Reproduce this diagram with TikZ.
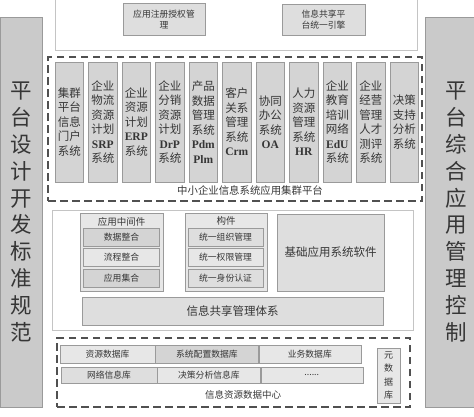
\documentclass[tikz,border=0pt]{standalone}
\usepackage{fontspec}
\newfontfamily\cjk{Noto Sans CJK SC}
\newfontfamily\lat{Liberation Serif}
\usepackage{xcolor}
\definecolor{gry00}{HTML}{CACACA}
\definecolor{gry01}{HTML}{D4D4D4}
\definecolor{gry02}{HTML}{DEDEDE}
\definecolor{gry03}{HTML}{E7E7E7}
\definecolor{edg00}{HTML}{9A9A9A}
\definecolor{edg01}{HTML}{C4C4C4}
\definecolor{txt00}{HTML}{363636}
\definecolor{dsh00}{HTML}{505050}
\usepackage{tikz}
\usetikzlibrary{positioning}
\tikzstyle{side_bar} = [rectangle, inner sep=0pt, minimum height=390pt, draw=edg00, fill=gry00, text=txt00, font=\cjk\fontsize{21.5}{26.8}\selectfont]
\tikzstyle{white_frame} = [rectangle, inner sep=0pt, draw=edg01, fill=white]
\tikzstyle{dash_frame} = [rectangle, inner sep=0pt, draw=dsh00, line width=1.7pt, dash pattern=on 7.5pt off 4.5pt]
\tikzstyle{app} = [rectangle, inner sep=0pt, minimum width=28.5pt, minimum height=120pt, draw=edg00, fill=gry01, text=txt00, font=\cjk\fontsize{11.5}{14.5}\selectfont]
\tikzstyle{cell} = [rectangle, inner sep=0pt, minimum height=18pt, draw=edg00, text=txt00, font=\cjk\fontsize{8.8}{11}\selectfont]
\tikzstyle{group} = [rectangle, inner sep=0pt, minimum height=78pt, draw=edg00, fill=gry03]
\tikzstyle{caption} = [inner sep=0pt, text=txt00, font=\cjk\fontsize{9.5}{11}\selectfont]
\tikzstyle{big_box} = [rectangle, inner sep=0pt, draw=edg00, fill=gry02, text=txt00, font=\cjk\fontsize{11.5}{13}\selectfont]

\begin{document}
\begin{tikzpicture}[x=1pt,y=-1pt,align=center]
        \useasboundingbox (0,0) rectangle (474,416);
        % side bars
        \node (std)[side_bar, minimum width=42pt] at (21,212) {平\\台\\设\\计\\开\\发\\标\\准\\规\\范};
        \node (ctl)[side_bar, minimum width=63pt] at (456.5,212) {平\\台\\综\\合\\应\\用\\管\\理\\控\\制};
        % top part
        \node (top)[white_frame, minimum width=362pt, minimum height=64pt] at (236,18) {};
        \node (reg)[cell, fill=gry02, minimum width=82pt, minimum height=32pt] at (164,19) {应用注册授权管\\理};
        \node (eng)[cell, fill=gry02, minimum width=83pt, minimum height=31pt] at (323.5,19.5) {信息共享平\\台统一引擎};
        % application cluster platform
        \node (plat)[dash_frame, minimum width=374pt, minimum height=144pt] at (235,129) {};
        \node (a1)[app] at (69.3,122) {集群\\平台\\信息\\门户\\系统};
        \node (a2)[app, right=4.6pt of a1] {企业\\物流\\资源\\计划\\{\lat\bfseries SRP}\\系统};
        \node (a3)[app, right=4.6pt of a2] {企业\\资源\\计划\\{\lat\bfseries ERP}\\系统};
        \node (a4)[app, right=4.6pt of a3] {企业\\分销\\资源\\计划\\{\lat\bfseries DrP}\\系统};
        \node (a5)[app, right=4.6pt of a4] {产品\\数据\\管理\\系统\\{\lat\bfseries Pdm}\\{\lat\bfseries Plm}};
        \node (a6)[app, right=4.6pt of a5] {客户\\关系\\管理\\系统\\{\lat\bfseries Crm}};
        \node (a7)[app, right=4.6pt of a6] {协同\\办公\\系统\\{\lat\bfseries OA}};
        \node (a8)[app, right=4.6pt of a7] {人力\\资源\\管理\\系统\\{\lat\bfseries HR}};
        \node (a9)[app, right=4.6pt of a8] {企业\\教育\\培训\\网络\\{\lat\bfseries EdU}\\系统};
        \node (a10)[app, right=4.6pt of a9] {企业\\经营\\管理\\人才\\测评\\系统};
        \node (a11)[app, right=4.6pt of a10] {决策\\支持\\分析\\系统};
        \node (plat_lbl)[caption, font=\cjk\fontsize{10.4}{12}\selectfont] at (250,191) {中小企业信息系统应用集群平台};
        % software layer
        \node (soft)[white_frame, minimum width=361pt, minimum height=120pt] at (232.5,270) {};
        \node (mid)[group, minimum width=83pt] at (121.5,252) {};
        \node (mid_t)[caption, below=4pt of mid.north] {应用中间件};
        \node (m1)[cell, fill=gry01, minimum width=76pt] at (121.5,237) {数据整合};
        \node (m2)[cell, fill=gry03, minimum width=76pt, below=2pt of m1] {流程整合};
        \node (m3)[cell, fill=gry01, minimum width=76pt, below=2pt of m2] {应用集合};
        \node (cmp)[group, minimum width=82pt] at (226,252) {};
        \node (cmp_t)[caption, below=4pt of cmp.north] {构件};
        \node (c1)[cell, fill=gry02, minimum width=75pt] at (225.5,237) {统一组织管理};
        \node (c2)[cell, fill=gry03, minimum width=75pt, below=2pt of c1] {统一权限管理};
        \node (c3)[cell, fill=gry02, minimum width=75pt, below=2pt of c2] {统一身份认证};
        \node (base)[big_box, minimum width=107pt, minimum height=77pt] at (330.5,252.5) {基础应用系统软件};
        \node (share)[big_box, minimum width=301pt, minimum height=28pt] at (232.5,311) {信息共享管理体系};
        % data center
        \node (dc)[dash_frame, minimum width=353pt, minimum height=69pt] at (233.5,372.5) {};
        \node (d1)[cell, fill=gry03, minimum width=95pt] at (107.5,354) {资源数据库};
        \node (d2)[cell, fill=gry01, minimum width=103pt, right=0pt of d1] {系统配置数据库};
        \node (d3)[cell, fill=gry03, minimum width=102pt, right=0pt of d2] {业务数据库};
        \node (d4)[cell, fill=gry02, minimum width=96pt, minimum height=16pt] at (109,375) {网络信息库};
        \node (d5)[cell, fill=gry03, minimum width=103pt, minimum height=16pt, right=0pt of d4] {决策分析信息库};
        \node (d6)[cell, fill=gry03, minimum width=102pt, minimum height=16pt, right=0pt of d5] {......};
        \node (meta)[cell, fill=gry03, minimum width=23pt, minimum height=55pt, font=\cjk\fontsize{9}{13.5}\selectfont] at (388.5,375.5) {元\\数\\据\\库};
        \node (dc_lbl)[caption] at (243,395) {信息资源数据中心};
    \end{tikzpicture}
\end{document}
